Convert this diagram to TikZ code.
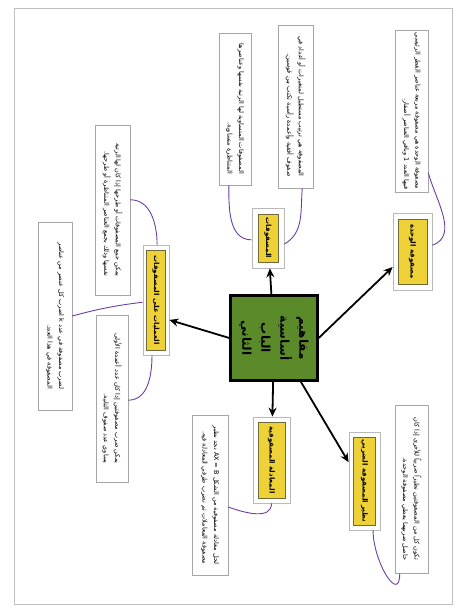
\documentclass[tikz,border=0pt]{standalone}
\usepackage{fontspec}
\setmainfont{DejaVu Sans}
\newfontfamily\arabicfont[Script=Arabic]{DejaVu Sans}
\TeXXeTstate=1
\usetikzlibrary{calc,arrows.meta}
\definecolor{boxgreen}{HTML}{5A8A2A}
\definecolor{tagyellow}{HTML}{EDD136}
\definecolor{tagborder}{HTML}{6E6A3A}
\definecolor{linkpurple}{HTML}{6A3FA0}
\tikzset{
  central/.style={rotate=-90, draw=black, line width=2.4pt, fill=boxgreen, align=center,
    font=\arabicfont\bfseries\fontsize{12}{19}\selectfont, inner sep=2pt},
  tagframe/.style={rotate=-90, draw=gray!55, line width=0.8pt, inner sep=0pt},
  tagbox/.style={rotate=-90, draw=tagborder, fill=tagyellow, line width=0.8pt, inner sep=1pt,
    font=\arabicfont\bfseries\fontsize{7}{8}\selectfont},
  notebox/.style={rotate=-90, draw=gray!70, fill=white, line width=0.6pt, inner sep=2pt, align=right,
    font=\arabicfont\fontsize{6.5}{11.5}\selectfont},
  link/.style={draw=linkpurple, line width=0.9pt},
  arr/.style={draw=black, line width=1.8pt, -{Stealth[length=9pt,width=8pt]}}
}
\begin{document}
\begin{tikzpicture}[x=1pt,y=1pt]
\useasboundingbox (0,0) rectangle (474,-612);
\draw[gray!50, line width=0.6pt] (14,-8) rectangle (452,-604);

% central
\node[central, minimum width=85, minimum height=87] (c) at (274,-338)
  {\beginR مفاهيم\endR\\ \beginR أساسية\endR\\ \beginR الباب\endR\\ \beginR الثاني\endR};

% topic tags
\node[tagframe, minimum width=77, minimum height=39] (uo) at (412.5,-251.5) {};
\node[tagbox, minimum width=65, minimum height=29] (u) at (uo.center) {\beginR مصفوفة الوحدة\endR};

\node[tagframe, minimum width=60, minimum height=32] (mo) at (268,-238) {};
\node[tagbox, minimum width=48, minimum height=20] (m) at (mo.center) {\beginR المصفوفات\endR};

\node[tagframe, minimum width=110, minimum height=26] (oo) at (156,-300) {};
\node[tagbox, minimum width=100, minimum height=19] (o) at (oo.center) {\beginR العمليات على المصفوفات\endR};

\node[tagframe, minimum width=86, minimum height=37] (eo) at (271.5,-460) {};
\node[tagbox, minimum width=76, minimum height=27] (e) at (eo.center) {\beginR المعادلة المصفوفية\endR};

\node[tagframe, minimum width=98, minimum height=31] (io) at (364.5,-481) {};
\node[tagbox, minimum width=88, minimum height=22] (i) at (io.center) {\beginR نظير المصفوفة الضربي\endR};

% notes
\node[notebox, minimum width=162, minimum height=33] (un) at (411.5,-111)
  {\beginR مصفوفة الوحدة هي مصفوفة مربعة عناصر القطر الرئيسي\endR\\
   \beginR فيها العدد 1 وباقي العناصر أصفار.\endR};
\node[notebox, minimum width=163, minimum height=35] (mn1) at (295.5,-106.5)
  {\beginR المصفوفة هي ترتيب مستطيل لمتغيرات أو أعداد في\endR\\
   \beginR صفوف أفقية وأعمدة رأسية تكتب بين قوسين.\endR};
\node[notebox, minimum width=152, minimum height=32] (mn2) at (235,-109)
  {\beginR المصفوفات المتساوية لها الرتبة نفسها وعناصرها\endR\\
   \beginR المتناظرة متساوية.\endR};
\node[notebox, minimum width=170, minimum height=35] (on1) at (112.5,-210)
  {\beginR يمكن جمع المصفوفات أو طرحها إذا كان لها الرتبة\endR\\
   \beginR نفسها وذلك بجمع العناصر المتناظرة أو طرحها.\endR};
\node[notebox, minimum width=188, minimum height=34] (on2) at (55,-316)
  {\beginR لضرب مصفوفة في عدد \beginL k\endL{} اضرب كل عنصر من عناصر\endR\\
   \beginR المصفوفة في هذا العدد.\endR};
\node[notebox, minimum width=167, minimum height=32] (on3) at (112,-398.5)
  {\beginR يمكن ضرب مصفوفتين إذا كان عدد أعمدة الأولى\endR\\
   \beginR يساوي عدد صفوف الثانية.\endR};
\node[notebox, minimum width=160, minimum height=36] (en) at (210,-495)
  {\beginR لحل معادلة مصفوفية من الشكل \beginL AX = B\endL{} نجد نظير\endR\\
   \beginR مصفوفة المعاملات ثم نضرب طرفي المعادلة فيه.\endR};
\node[notebox, minimum width=168, minimum height=33] (inv) at (411.5,-489)
  {\beginR تكون كل من المصفوفتين نظيراً ضربياً للأخرى إذا كان\endR\\
   \beginR حاصل ضربهما يعطي مصفوفة الوحدة.\endR};

% purple links
\draw[link] ($(un.north west)!0.88!(un.north east)$) to[out=-75,in=20] ($(uo.north west)!0.42!(uo.north east)$);
\draw[link] ($(mn1.south east)!0.69!(mn1.north east)$) to[out=-95,in=30] ($(mo.north west)!0.6!(mo.north east)$);
\draw[link] ($(mn2.south east)!0.31!(mn2.north east)$) to[out=-90,in=180] ($(mo.south west)!0.53!(mo.south east)$);
\draw[link] ($(on1.north west)!0.44!(on1.north east)$) to[out=0,in=90] ($(oo.south west)!0.54!(oo.north west)$);
\draw[link] ($(on2.north west)!0.5!(on2.north east)$) to[bend left=4] ($(oo.south west)!0.52!(oo.south east)$);
\draw[link] ($(on3.north west)!0.51!(on3.north east)$) to[out=0,in=-90] ($(oo.south east)!0.35!(oo.north east)$);
\draw[link] ($(en.north west)!0.575!(en.north east)$) to[out=-20,in=-90] (eo.east);
\draw[link] ($(io.south east)!0.77!(io.north east)$) to[out=-90,in=-90,looseness=1.6] ($(inv.south east)!0.15!(inv.north east)$);

% arrows
\draw[arr] (c) -- (mo);
\draw[arr] (c.north) -- ($(uo.south west)!0.7!(uo.south east)$);
\draw[arr] ($(c.south east)!0.8!(c.north east)$) -- ($(io.south west)!0.31!(io.south east)$);
\draw[arr] (c.south) -- ($(oo.north west)!0.68!(oo.north east)$);
\draw[arr] (c) -- (eo);
\end{tikzpicture}
\end{document}
